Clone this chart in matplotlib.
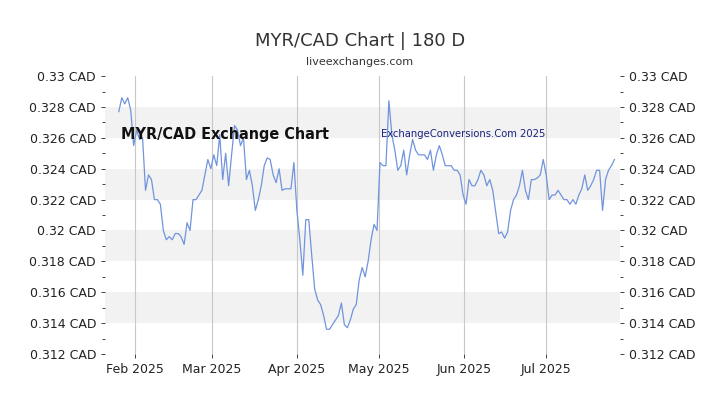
import matplotlib
matplotlib.use("Agg")
import matplotlib.pyplot as plt
import matplotlib.dates as mdates
import pandas as pd
import numpy as np

start_date = "2025-01-26"
end_date = "2025-07-26"
values = [0.3277,0.3286,0.3282,0.3286,0.3278,0.3255,0.3265,0.3259,0.3260,0.3226,0.3236,0.3233,0.3220,0.3220,
0.3217,0.3200,0.3194,0.3196,0.3194,0.3198,0.3198,0.3196,0.3191,0.3205,0.3200,0.3220,0.3220,0.3223,0.3226,
0.3236,0.3246,0.3240,0.3249,0.3242,0.3262,0.3233,0.3250,0.3229,0.3249,0.3268,0.3265,0.3255,0.3260,0.3233,
0.3239,0.3229,0.3213,0.3220,0.3229,0.3242,0.3247,0.3246,0.3236,0.3231,0.3240,0.3226,0.3227,0.3227,0.3227,
0.3244,0.3213,0.3194,0.3171,0.3207,0.3207,0.3184,0.3162,0.3155,0.3152,0.3145,0.3136,0.3136,0.3139,0.3142,
0.3145,0.3153,0.3139,0.3137,0.3142,0.3149,0.3152,0.3168,0.3176,0.3170,0.3180,0.3194,0.3204,0.3200,0.3244,
0.3242,0.3242,0.3284,0.3262,0.3252,0.3239,0.3242,0.3252,0.3236,0.3249,0.3259,0.3252,0.3249,0.3249,0.3249,
0.3246,0.3252,0.3239,0.3249,0.3255,0.3249,0.3242,0.3242,0.3242,0.3239,0.3239,0.3236,0.3223,0.3217,0.3233,
0.3229,0.3229,0.3233,0.3239,0.3236,0.3229,0.3233,0.3226,0.3212,0.3198,0.3199,0.3195,0.3199,0.3213,0.3220,
0.3223,0.3229,0.3239,0.3226,0.3220,0.3233,0.3233,0.3234,0.3236,0.3246,0.3236,0.3220,0.3223,0.3223,0.3226,
0.3223,0.3220,0.3220,0.3217,0.3220,0.3217,0.3223,0.3227,0.3236,0.3226,0.3229,0.3233,0.3239,0.3239,0.3213,
0.3233,0.3239,0.3242,0.3246]
y_ticks = [0.312,0.314,0.316,0.318,0.32,0.322,0.324,0.326,0.328,0.33]
y_labels = ["0.312 CAD","0.314 CAD","0.316 CAD","0.318 CAD","0.32 CAD","0.322 CAD","0.324 CAD","0.326 CAD","0.328 CAD","0.33 CAD"]
month_ticks = ["2025-02-01","2025-03-01","2025-04-01","2025-05-01","2025-06-01","2025-07-01"]

dates = pd.date_range(start_date, end_date, periods=len(values))

fig = plt.figure(figsize=(7.2, 4.05), dpi=100)
ax = fig.add_axes([0.146, 0.126, 0.715, 0.686])
ax.set_xlim(pd.Timestamp("2025-01-21"), pd.Timestamp("2025-07-28"))
ax.set_ylim(0.312, 0.33)
for i in range(len(y_ticks) - 1):
    if i % 2 == 1:
        ax.axhspan(y_ticks[i], y_ticks[i + 1], color="#f2f2f2", zorder=0, lw=0)
for m in month_ticks:
    ax.axvline(pd.Timestamp(m), color="#c8c8c8", lw=0.8, zorder=1)
ax.plot(dates, values, color="#7094dd", lw=0.9, zorder=3)

ax.set_yticks(y_ticks)
ax.set_yticklabels(y_labels)
ax.set_yticks(np.arange(0.313, 0.33, 0.002), minor=True)
ax.tick_params(axis="y", which="both", left=True, right=True, labelleft=True, labelright=True,
               labelsize=9, colors="#222222", length=3, width=0.6)
ax.tick_params(axis="y", which="minor", length=2)
ax.set_xticks([pd.Timestamp(m) for m in month_ticks])
ax.xaxis.set_major_formatter(mdates.DateFormatter("%b %Y"))
ax.tick_params(axis="x", labelsize=9, colors="#222222", length=3, width=0.6)
for s in ax.spines.values():
    s.set_visible(False)

fig.text(0.5, 0.9, "MYR/CAD Chart | 180 D", ha="center", va="center", fontsize=13, color="#333333")
fig.text(0.5, 0.846, "liveexchanges.com", ha="center", va="center", fontsize=8, color="#333333")
ax.text(0.03, 0.79, "MYR/CAD Exchange Chart", transform=ax.transAxes, fontsize=11.5,
        fontstretch="condensed", fontweight="bold", color="#111111", va="center")
ax.text(0.535, 0.79, "ExchangeConversions.Com 2025", transform=ax.transAxes, fontsize=8,
        fontstretch="condensed", color="#1a237e", va="center")
fig.savefig("out.png", dpi=100)
